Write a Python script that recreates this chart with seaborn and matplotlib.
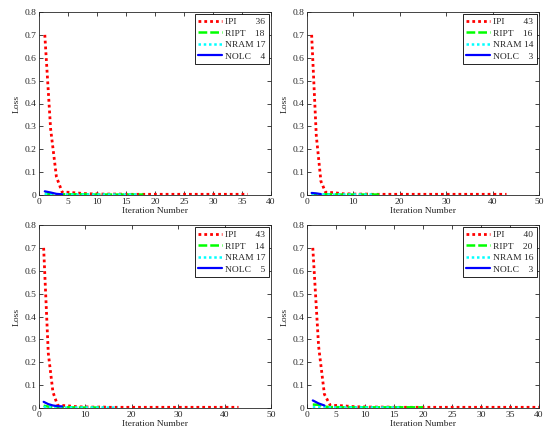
import matplotlib
matplotlib.use("Agg")
import matplotlib.pyplot as plt
import seaborn as sns

# iteration counts shown in each legend
methods = ["IPI", "RIPT", "NRAM", "NOLC"]

# panel (a) top-left
ipi_a = [0.700, 0.290, 0.080, 0.012, 0.012, 0.010, 0.008, 0.006, 0.005, 0.005,
         0.004, 0.004, 0.004, 0.004, 0.003, 0.003, 0.003, 0.003, 0.003, 0.003,
         0.003, 0.003, 0.003, 0.003, 0.003, 0.003, 0.003, 0.003, 0.003, 0.003,
         0.003, 0.003, 0.003, 0.003, 0.003, 0.003]
ript_a = [0.006, 0.004, 0.003, 0.003, 0.003, 0.003, 0.003, 0.003, 0.002, 0.002,
          0.002, 0.002, 0.002, 0.002, 0.002, 0.002, 0.002, 0.002]
nram_a = [0.003, 0.003, 0.003, 0.003, 0.002, 0.002, 0.002, 0.002, 0.002, 0.002,
          0.002, 0.002, 0.002, 0.002, 0.002, 0.002, 0.002]
nolc_a = [0.016, 0.011, 0.005, 0.003]

# panel (b) top-right
ipi_b = [0.700, 0.260, 0.060, 0.012, 0.011, 0.010, 0.007, 0.005, 0.005, 0.004,
         0.004, 0.004, 0.004, 0.003, 0.003, 0.003, 0.003, 0.003, 0.003, 0.003,
         0.003, 0.003, 0.003, 0.003, 0.003, 0.003, 0.003, 0.003, 0.003, 0.003,
         0.003, 0.003, 0.003, 0.003, 0.003, 0.003, 0.003, 0.003, 0.003, 0.003,
         0.003, 0.003, 0.003]
ript_b = [0.005, 0.004, 0.003, 0.003, 0.003, 0.003, 0.002, 0.002, 0.002, 0.002,
          0.002, 0.002, 0.002, 0.002, 0.002, 0.002]
nram_b = [0.003, 0.003, 0.003, 0.002, 0.002, 0.002, 0.002, 0.002, 0.002, 0.002,
          0.002, 0.002, 0.002, 0.002]
nolc_b = [0.009, 0.007, 0.004]

# panel (c) bottom-left
ipi_c = [0.700, 0.240, 0.070, 0.012, 0.011, 0.010, 0.008, 0.006, 0.005, 0.005,
         0.004, 0.004, 0.004, 0.004, 0.003, 0.003, 0.003, 0.003, 0.003, 0.003,
         0.003, 0.003, 0.003, 0.003, 0.003, 0.003, 0.003, 0.003, 0.003, 0.003,
         0.003, 0.003, 0.003, 0.003, 0.003, 0.003, 0.003, 0.003, 0.003, 0.003,
         0.003, 0.003, 0.003]
ript_c = [0.010, 0.006, 0.004, 0.003, 0.003, 0.003, 0.003, 0.002, 0.002, 0.002,
          0.002, 0.002, 0.002, 0.002]
nram_c = [0.004, 0.003, 0.003, 0.003, 0.003, 0.002, 0.002, 0.002, 0.002, 0.002,
          0.002, 0.002, 0.002, 0.002, 0.002, 0.002, 0.002]
nolc_c = [0.027, 0.017, 0.011, 0.008, 0.007]

# panel (d) bottom-right
ipi_d = [0.700, 0.270, 0.060, 0.012, 0.011, 0.010, 0.008, 0.006, 0.005, 0.005,
         0.004, 0.004, 0.004, 0.004, 0.003, 0.003, 0.003, 0.003, 0.003, 0.003,
         0.003, 0.003, 0.003, 0.003, 0.003, 0.003, 0.003, 0.003, 0.003, 0.003,
         0.003, 0.003, 0.003, 0.003, 0.003, 0.003, 0.003, 0.003, 0.003, 0.003]
ript_d = [0.015, 0.014, 0.006, 0.004, 0.004, 0.003, 0.003, 0.003, 0.003, 0.003,
          0.003, 0.003, 0.003, 0.003, 0.003, 0.003, 0.003, 0.003, 0.003, 0.003]
nram_d = [0.003, 0.003, 0.003, 0.003, 0.002, 0.002, 0.002, 0.002, 0.002, 0.002,
          0.002, 0.002, 0.002, 0.002, 0.002, 0.002]
nolc_d = [0.033, 0.020, 0.011]

panels = [
    ([ipi_a, ript_a, nram_a, nolc_a], 40, 5),
    ([ipi_b, ript_b, nram_b, nolc_b], 50, 10),
    ([ipi_c, ript_c, nram_c, nolc_c], 50, 10),
    ([ipi_d, ript_d, nram_d, nolc_d], 40, 5),
]
yticks = [0, 0.1, 0.2, 0.3, 0.4, 0.5, 0.6, 0.7, 0.8]

sns.set_style("ticks")
plt.rcParams['font.family'] = ['Liberation Serif', 'DejaVu Serif']
plt.rcParams['font.size'] = 6.8

colors = ["#ff0000", "#00ff00", "#00ffff", "#0000ff"]
styles = [(0, (1, 1.1)), (0, (3.5, 1.2)), (0, (1, 1.1)), "-"]
widths = [2.0, 1.8, 1.8, 1.6]
pads = ["        ", "    ", " ", "    "]

W, H = 550, 437
boxes = [(39, 12), (307, 12), (39, 225), (307, 225)]
fig = plt.figure(figsize=(5.5, 4.37), dpi=100)

for (series, xmax, xstep), (px, py) in zip(panels, boxes):
    ax = fig.add_axes([px / W, 1 - (py + 183) / H, 232 / W, 183 / H])
    for name, vals, c, ls, lw, pad in zip(methods, series, colors, styles, widths, pads):
        its = list(range(1, len(vals) + 1))
        sns.lineplot(x=its, y=vals, ax=ax, color=c, linestyle=ls, linewidth=lw,
                     label=f"{name}{pad}{len(vals)}")
    ax.set_xlim(0, xmax)
    ax.set_ylim(0, 0.8)
    ax.set_xticks(list(range(0, xmax + 1, xstep)))
    ax.set_yticks(yticks)
    ax.set_yticklabels(["0" if t == 0 else f"{t:g}" for t in yticks])
    ax.tick_params(direction="in", top=True, right=True, length=3, width=0.6,
                   labelsize=6.8, pad=2)
    for s in ax.spines.values():
        s.set_linewidth(0.6)
    ax.set_xlabel("Iteration Number", fontsize=6.8, labelpad=1)
    ax.set_ylabel("Loss", fontsize=6.8, labelpad=3)
    leg = ax.legend(loc="upper right", fancybox=False, edgecolor="black",
                    framealpha=1, fontsize=6.8, handlelength=2.5,
                    labelspacing=0.3, borderaxespad=0.25, borderpad=0.35,
                    handletextpad=0.3)
    leg.get_frame().set_linewidth(0.6)

fig.savefig("out.png", dpi=100)
